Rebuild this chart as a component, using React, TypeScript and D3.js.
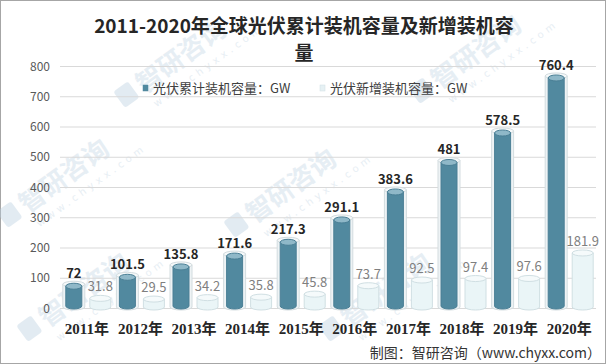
import React, { useEffect, useRef } from 'react';
import * as d3 from 'd3';

// 数据
const years = ['2011年', '2012年', '2013年', '2014年', '2015年', '2016年', '2017年', '2018年', '2019年', '2020年'];
const cumulative = [72, 101.5, 135.8, 171.6, 217.3, 291.1, 383.6, 481, 578.5, 760.4];
const newAdded = [31.8, 29.5, 34.2, 35.8, 45.8, 73.7, 92.5, 97.4, 97.6, 181.9];
const yTicks = [0, 100, 200, 300, 400, 500, 600, 700, 800];
const seriesNames = ['光伏累计装机容量：GW', '光伏新增装机容量：GW'];
const titleLines = ['2011-2020年全球光伏累计装机容量及新增装机容', '量'];
const footer = '制图：智研咨询（www.chyxx.com）';

const W = 606;
const H = 364;
const CJK = '"Microsoft YaHei", "Noto Sans CJK SC", sans-serif';

function cylinder(g: any, cx: number, top: number, bottom: number, w: number, fill: string, topFill: string, stroke: string) {
	const r = w / 2;
	const ry = 3;
	g.append('path')
		.attr('d', `M${cx - r},${top} L${cx - r},${bottom} A${r},${ry} 0 0 0 ${cx + r},${bottom} L${cx + r},${top} Z`)
		.attr('fill', fill)
		.attr('stroke', stroke)
		.attr('stroke-width', 1);
	g.append('ellipse')
		.attr('cx', cx)
		.attr('cy', top)
		.attr('rx', r)
		.attr('ry', ry)
		.attr('fill', topFill)
		.attr('stroke', stroke)
		.attr('stroke-width', 1);
}

export default function App() {
	const ref = useRef<SVGSVGElement>(null);

	useEffect(() => {
		const svg = d3.select(ref.current);
		svg.selectAll('*').remove();

		svg.append('rect')
			.attr('x', 0.5).attr('y', 0.5)
			.attr('width', W - 1).attr('height', H - 1)
			.attr('fill', '#fff')
			.attr('stroke', '#a6a6a6');

		// 水印
		const marks = [[125, 108], [420, 104], [8, 228], [235, 238], [28, 342], [330, 342]];
		marks.forEach(([mx, my]) => {
			const wm = svg.append('g')
				.attr('transform', `translate(${mx},${my}) rotate(-36)`)
				.attr('opacity', 0.4);
			wm.append('rect').attr('x', 0).attr('y', -20).attr('width', 18).attr('height', 20).attr('rx', 3).attr('fill', '#b9cfe0');
			wm.append('text')
				.attr('x', 24).attr('y', 0)
				.attr('font-family', CJK).attr('font-size', 26).attr('font-weight', 'bold')
				.attr('fill', '#c3d5e4')
				.text('智研咨询');
			wm.append('text')
				.attr('x', 26).attr('y', 18)
				.attr('font-family', 'Verdana, "DejaVu Sans", sans-serif').attr('font-size', 10)
				.attr('letter-spacing', 4)
				.attr('fill', '#c3d5e4')
				.text('www.chyxx.com');
		});

		const x = d3.scaleBand().domain(years).range([60, 596]);
		const y = d3.scaleLinear().domain([0, 800]).range([308, 66]);
		const bw = x.bandwidth();

		// 网格线与纵轴
		svg.selectAll('.grid').data(yTicks).enter().append('line')
			.attr('class', 'grid')
			.attr('x1', 60).attr('x2', 596)
			.attr('y1', d => y(d) + 0.5).attr('y2', d => y(d) + 0.5)
			.attr('stroke', '#d9d9d9');
		svg.selectAll('.ytick').data(yTicks).enter().append('text')
			.attr('class', 'ytick')
			.attr('x', 50).attr('y', d => y(d) + 4.5)
			.attr('text-anchor', 'end')
			.attr('font-family', CJK).attr('font-size', 12)
			.attr('fill', '#595959')
			.text(d => d);

		// 标题
		titleLines.forEach((t, i) => {
			svg.append('text')
				.attr('x', 304).attr('y', 33 + i * 27)
				.attr('text-anchor', 'middle')
				.attr('font-family', CJK).attr('font-size', 19).attr('font-weight', 'bold')
				.attr('fill', '#262626')
				.text(t);
		});

		// 图例
		const legend = [[143, '#51899f', '#51899f'], [320, '#e6f1f4', '#d0dfe3']];
		legend.forEach(([lx, c, s], i) => {
			svg.append('rect')
				.attr('x', lx as number).attr('y', 85)
				.attr('width', 5).attr('height', 6)
				.attr('fill', c as string).attr('stroke', s as string).attr('stroke-width', 0.5);
			svg.append('text')
				.attr('x', (lx as number) + 10).attr('y', 93)
				.attr('font-family', CJK).attr('font-size', 13)
				.attr('fill', '#404040')
				.text(seriesNames[i]);
		});

		// 柱子
		const bars = svg.append('g');
		years.forEach((yr, i) => {
			const c = (x(yr) as number) + bw / 2;
			const c1 = c - 13;
			const c2 = c + 13.5;
			cylinder(bars, c1, y(cumulative[i]) - 2, y(0) - 1, 22, '#eef3f5', '#f6f9fa', '#d3dcdf');
			cylinder(bars, c1, y(cumulative[i]), y(0) - 2, 16, '#51899f', '#8fb8c8', '#4a7f95');
			cylinder(bars, c2, y(newAdded[i]), y(0) - 1, 21, '#eaf5f7', '#f5fafb', '#d0dfe3');

			bars.append('text')
				.attr('x', c1).attr('y', y(cumulative[i]) - 8)
				.attr('text-anchor', 'middle')
				.attr('font-family', CJK).attr('font-size', 13).attr('font-weight', 'bold')
				.attr('fill', '#262626')
				.text(cumulative[i]);
			bars.append('text')
				.attr('x', c2).attr('y', y(newAdded[i]) - 7)
				.attr('text-anchor', 'middle')
				.attr('font-family', CJK).attr('font-size', 13)
				.attr('fill', '#7f7f7f')
				.text(newAdded[i]);
		});

		// 横轴标签
		svg.selectAll('.xtick').data(years).enter().append('text')
			.attr('class', 'xtick')
			.attr('x', d => (x(d) as number) + bw / 2)
			.attr('y', 334)
			.attr('text-anchor', 'middle')
			.attr('font-family', '"Liberation Serif", "Noto Sans CJK SC", serif')
			.attr('font-size', 15).attr('font-weight', 'bold')
			.attr('fill', '#262626')
			.text(d => d);

		svg.append('text')
			.attr('x', 601).attr('y', 358)
			.attr('text-anchor', 'end')
			.attr('font-family', CJK).attr('font-size', 14)
			.attr('fill', '#333')
			.text(footer);
	}, []);

	return (
		<svg ref={ref} width={W} height={H} style={{ position: 'absolute', left: 0, top: 0 }} />
	);
}
